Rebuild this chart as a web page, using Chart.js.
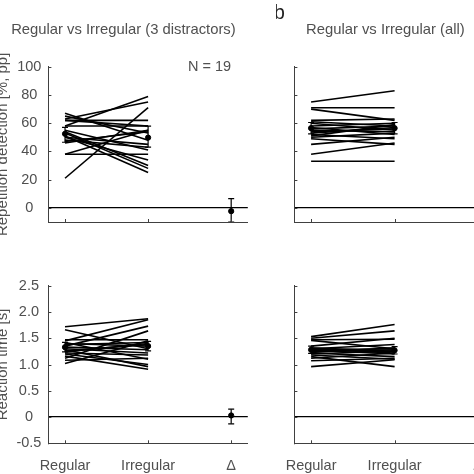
<!DOCTYPE html>
<html>
<head>
<meta charset="utf-8">
<script src="https://cdn.jsdelivr.net/npm/chart.js@4.4.1/dist/chart.umd.min.js"></script>
<style>
  body { margin: 0; width: 474px; height: 474px; overflow: hidden; background: #fff; position: relative; }
  canvas { position: absolute; }
</style>
</head>
<body>
<canvas id="detection-3d" width="255" height="240" style="left:-2.4px;top:0"></canvas>
<canvas id="detection-all" width="230" height="240" style="left:275.6px;top:0"></canvas>
<canvas id="rt-3d" width="255" height="219" style="left:-2.4px;top:255px"></canvas>
<canvas id="rt-all" width="230" height="219" style="left:275.6px;top:255px"></canvas>
<script>
// categories on the x axis
const categories = ['Regular', 'Irregular', 'Δ']
const detectionTicks = [0, 20, 40, 60, 80, 100]
const timeTicks = [-0.5, 0, 0.5, 1, 1.5, 2, 2.5]

// repetition detection, 3 distractors (one value per subject)
const det3Regular = [21, 58, 63, 67, 65, 62, 62, 58, 54, 53, 51, 50, 48, 47, 46, 38, 38, 55, 50]
const det3Irregular = [71, 79, 75, 48, 53, 62, 58, 58, 30, 28, 25, 34, 43, 54, 55, 38, 55, 41, 45]
const det3Mean = [52.5, 49.8, -2.3]
const det3Low = [46.5, 43, -10]
const det3High = [57, 58, 6.5]

// repetition detection, all
const detAllRegular = [75, 71, 70, 62, 61, 60, 58, 57, 56, 55, 53, 52, 51, 50, 49, 45, 38, 33, 54]
const detAllIrregular = [83, 71, 62, 63, 58, 55, 60, 52, 58, 54, 57, 49, 59, 53, 45, 50, 46, 33, 56]
const detAllMean = [56.5, 56.5]
const detAllLow = [52.5, 52.5]
const detAllHigh = [60.5, 60.5]

// reaction time, 3 distractors
const rt3Regular = [1.72, 1.66, 1.47, 1.45, 1.42, 1.40, 1.38, 1.35, 1.33, 1.30, 1.28, 1.26, 1.24, 1.22, 1.20, 1.16, 1.12, 1.08, 1.02]
const rt3Irregular = [1.87, 1.30, 1.47, 1.85, 1.10, 1.35, 1.42, 1.73, 1.28, 1.22, 0.96, 1.38, 1.40, 1.18, 1.00, 0.91, 1.64, 1.12, 1.45]
const rt3Mean = [1.33, 1.35, 0.03]
const rt3Low = [1.24, 1.26, -0.13]
const rt3High = [1.42, 1.44, 0.15]

// reaction time, all
const rtAllRegular = [1.53, 1.50, 1.47, 1.46, 1.35, 1.32, 1.30, 1.29, 1.28, 1.27, 1.25, 1.23, 1.22, 1.20, 1.18, 1.15, 1.12, 1.07, 0.96]
const rtAllIrregular = [1.76, 1.64, 1.48, 1.30, 1.50, 1.25, 1.38, 1.22, 1.30, 1.20, 1.28, 1.32, 1.15, 1.26, 1.10, 0.96, 1.22, 1.12, 1.09]
const rtAllMean = [1.28, 1.27]
const rtAllLow = [1.21, 1.20]
const rtAllHigh = [1.35, 1.34]

const textColor = '#505050'
const axisColor = '#404040'
Chart.defaults.font.family = "'Liberation Sans', Arial, sans-serif"
Chart.defaults.color = textColor

//small tick marks drawn inside the axes
const innerTicks = {
  id: 'innerTicks',
  afterDraw (chart) {
    const { ctx, chartArea, scales } = chart
    ctx.save()
    ctx.strokeStyle = axisColor
    ctx.lineWidth = 1
    scales.y.ticks.forEach(t => {
      const y = Math.round(scales.y.getPixelForValue(t.value)) + 0.5
      ctx.beginPath()
      ctx.moveTo(chartArea.left, y)
      ctx.lineTo(chartArea.left + 3, y)
      ctx.stroke()
    })
    scales.x.ticks.forEach(t => {
      const x = Math.round(scales.x.getPixelForValue(t.value)) + 0.5
      ctx.beginPath()
      ctx.moveTo(x, chartArea.bottom)
      ctx.lineTo(x, chartArea.bottom - 3)
      ctx.stroke()
    })
    ctx.restore()
  }
}

//free texts (N = 19, panel letter)
const notes = {
  id: 'notes',
  afterDraw (chart, args, opts) {
    const { ctx, scales } = chart
    ;(opts.items || []).forEach(item => {
      const x = item.xValue !== undefined ? scales.x.getPixelForValue(item.xValue) : item.px
      const y = item.yValue !== undefined ? scales.y.getPixelForValue(item.yValue) : item.py
      ctx.save()
      ctx.font = `${item.size}px 'Liberation Sans', Arial, sans-serif`
      ctx.fillStyle = item.color
      ctx.textAlign = item.align
      ctx.textBaseline = 'middle'
      ctx.fillText(item.text, x, y)
      ctx.restore()
    })
  }
}

function buildPanel (canvasId, p) {
  const datasets = []

  //one line per subject
  p.regular.forEach((v, i) => {
    datasets.push({
      data: [{ x: 1, y: v }, { x: 2, y: p.irregular[i] }],
      showLine: true,
      borderColor: '#000',
      borderWidth: 1.6,
      pointRadius: 0
    })
  })

  //error bars
  p.mean.forEach((m, i) => {
    datasets.push({
      data: [{ x: i + 1, y: p.low[i] }, { x: i + 1, y: p.high[i] }],
      showLine: true,
      borderColor: '#000',
      borderWidth: 1.2,
      pointStyle: 'line',
      pointRadius: 3,
      pointBorderColor: '#000',
      pointBorderWidth: 1.2
    })
  })

  //means
  datasets.push({
    data: p.mean.map((m, i) => ({ x: i + 1, y: m })),
    showLine: false,
    pointRadius: 2.6,
    backgroundColor: '#000',
    borderColor: '#000'
  })

  return new Chart(document.getElementById(canvasId), {
    type: 'scatter',
    data: { datasets },
    options: {
      responsive: false,
      animation: false,
      devicePixelRatio: 1,
      layout: { padding: { top: p.padTop, right: p.padRight, left: 0, bottom: 0 } },
      plugins: {
        legend: { display: false },
        tooltip: { enabled: false },
        title: {
          display: !!p.title,
          text: p.title,
          color: textColor,
          font: { size: 14.8, weight: 'normal' },
          padding: { top: 21, bottom: 28 }
        },
        notes: { items: p.notes || [] }
      },
      scales: {
        x: {
          type: 'linear',
          min: 0.8,
          max: 3.2,
          afterBuildTicks: s => { s.ticks = [1, 2, 3].map(v => ({ value: v })) },
          afterFit: s => { s.height = p.xHeight },
          grid: { display: false },
          border: { display: true, color: axisColor, width: 1 },
          ticks: {
            display: p.xLabels,
            padding: 6,
            color: textColor,
            font: { size: 14.5 },
            callback: v => categories[Math.round(v) - 1] ?? ''
          }
        },
        y: {
          min: p.yMin,
          max: p.yMax,
          afterBuildTicks: s => { s.ticks = p.yTicks.map(v => ({ value: v })) },
          afterFit: s => { s.width = p.yWidth },
          grid: {
            drawTicks: false,
            lineWidth: 1.3,
            color: c => (c.tick && c.tick.value === 0) ? '#000' : 'rgba(0,0,0,0)'
          },
          border: { display: true, color: axisColor, width: 1 },
          ticks: {
            display: p.yLabels,
            crossAlign: 'center',
            padding: 7,
            color: textColor,
            font: { size: 14.5 }
          },
          title: {
            display: !!p.yTitle,
            text: p.yTitle,
            color: textColor,
            font: { size: 15, lineHeight: 0.6 },
            padding: 0
          }
        }
      }
    },
    plugins: [innerTicks, notes]
  })
}

buildPanel('detection-3d', {
  regular: det3Regular, irregular: det3Irregular,
  mean: det3Mean, low: det3Low, high: det3High,
  yMin: -10, yMax: 100, yTicks: detectionTicks,
  title: 'Regular vs Irregular (3 distractors)',
  yTitle: 'Repetition detection [%, pp]',
  yLabels: true, xLabels: false,
  yWidth: 50.4, xHeight: 18, padTop: 0, padRight: 4.2,
  notes: [{ text: 'N = 19', xValue: 3, yValue: 100, size: 14.5, color: textColor, align: 'right' }]
})

buildPanel('detection-all', {
  regular: detAllRegular, irregular: detAllIrregular,
  mean: detAllMean, low: detAllLow, high: detAllHigh,
  yMin: -10, yMax: 100, yTicks: detectionTicks,
  title: 'Regular vs Irregular (all)',
  yLabels: false, xLabels: false,
  yWidth: 18.4, xHeight: 18, padTop: 0, padRight: 11.2,
  notes: [{ text: 'b', px: 3.4, py: 13, size: 20, color: '#222', align: 'center' }]
})

buildPanel('rt-3d', {
  regular: rt3Regular, irregular: rt3Irregular,
  mean: rt3Mean, low: rt3Low, high: rt3High,
  yMin: -0.5, yMax: 2.5, yTicks: timeTicks,
  yTitle: 'Reaction time [s]',
  yLabels: true, xLabels: true,
  yWidth: 50.4, xHeight: 30.7, padTop: 30.7, padRight: 4.2
})

buildPanel('rt-all', {
  regular: rtAllRegular, irregular: rtAllIrregular,
  mean: rtAllMean, low: rtAllLow, high: rtAllHigh,
  yMin: -0.5, yMax: 2.5, yTicks: timeTicks,
  yLabels: false, xLabels: true,
  yWidth: 18.4, xHeight: 30.7, padTop: 30.7, padRight: 11.2
})
</script>
</body>
</html>
